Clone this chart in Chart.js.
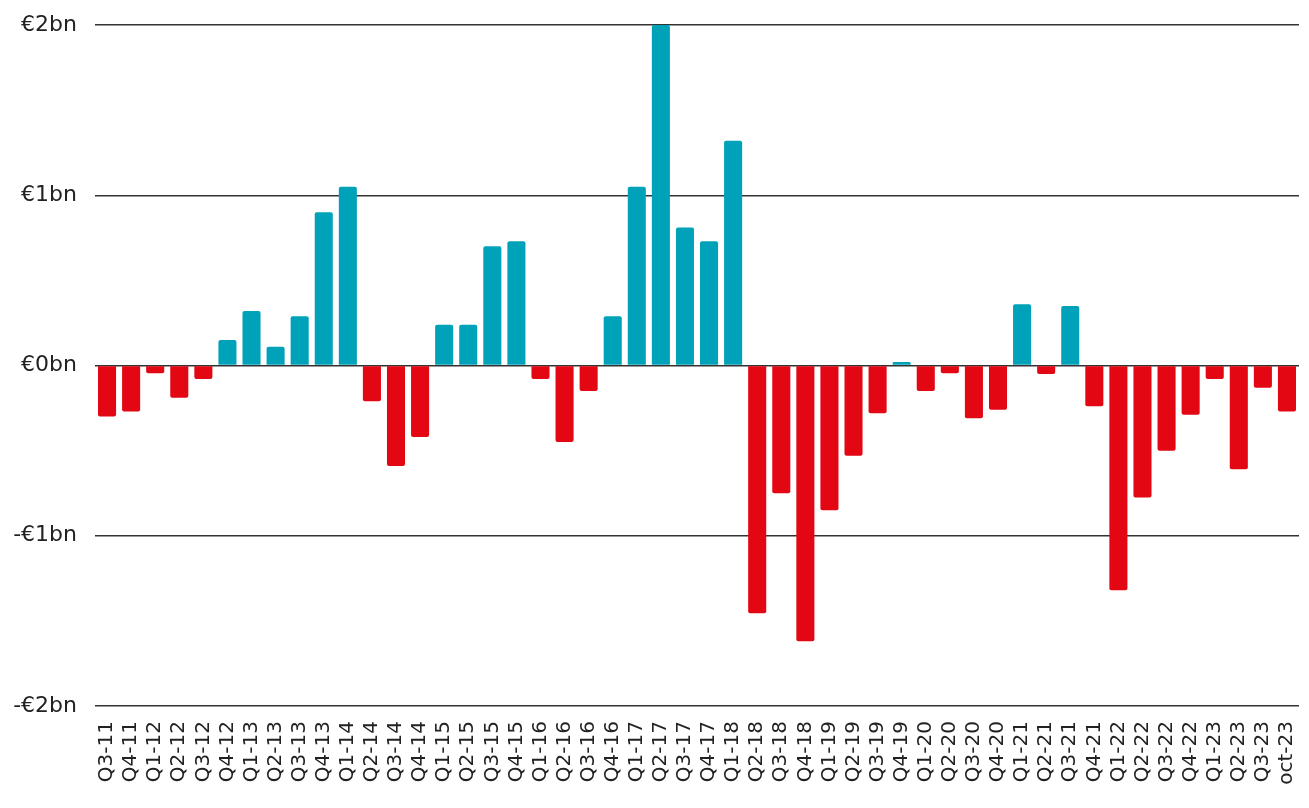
<!DOCTYPE html>
<html>
<head>
<meta charset="utf-8">
<script src="https://cdn.jsdelivr.net/npm/chart.js@4.4.1/dist/chart.umd.min.js"></script>
<style>
  html, body { margin: 0; padding: 0; background: #fff; }
  #wrap { width: 1309px; height: 808px; }
</style>
</head>
<body>
<div id="wrap"><canvas id="flowChart" width="1309" height="808"></canvas></div>
<script>
// trimestres
const quarters = [
  'Q3-11', 'Q4-11', 'Q1-12', 'Q2-12', 'Q3-12', 'Q4-12', 'Q1-13', 'Q2-13', 'Q3-13', 'Q4-13',
  'Q1-14', 'Q2-14', 'Q3-14', 'Q4-14', 'Q1-15', 'Q2-15', 'Q3-15', 'Q4-15', 'Q1-16', 'Q2-16',
  'Q3-16', 'Q4-16', 'Q1-17', 'Q2-17', 'Q3-17', 'Q4-17', 'Q1-18', 'Q2-18', 'Q3-18', 'Q4-18',
  'Q1-19', 'Q2-19', 'Q3-19', 'Q4-19', 'Q1-20', 'Q2-20', 'Q3-20', 'Q4-20', 'Q1-21', 'Q2-21',
  'Q3-21', 'Q4-21', 'Q1-22', 'Q2-22', 'Q3-22', 'Q4-22', 'Q1-23', 'Q2-23', 'Q3-23', 'oct-23'
];

// flux en milliards d'euros
const flows = [
  -0.30, -0.27, -0.045, -0.19, -0.08, 0.15, 0.32, 0.11, 0.29, 0.90,
  1.05, -0.21, -0.59, -0.42, 0.24, 0.24, 0.70, 0.73, -0.08, -0.45,
  -0.15, 0.29, 1.05, 2.00, 0.81, 0.73, 1.32, -1.455, -0.75, -1.62,
  -0.85, -0.53, -0.28, 0.02, -0.15, -0.045, -0.31, -0.26, 0.36, -0.05,
  0.35, -0.24, -1.32, -0.775, -0.50, -0.29, -0.08, -0.61, -0.13, -0.27
];

const yTicks = [-2, -1, 0, 1, 2];
const yTickLabels = ['-€2bn', '-€1bn', '€0bn', '€1bn', '€2bn'];

const TEAL = '#00a2b9';
const RED = '#e30613';
const FONT = "'DejaVu Sans', sans-serif";

new Chart(document.getElementById('flowChart'), {
  type: 'bar',
  data: {
    labels: quarters,
    datasets: [{
      data: flows,
      backgroundColor: flows.map(v => v >= 0 ? TEAL : RED),
      borderWidth: 0,
      borderRadius: 2,
      borderSkipped: 'start',
      barPercentage: 0.75,
      categoryPercentage: 1.0
    }]
  },
  options: {
    responsive: false,
    animation: false,
    layout: { padding: { top: 25, right: 10, left: 0, bottom: 0 } },
    plugins: {
      legend: { display: false },
      tooltip: { enabled: false }
    },
    scales: {
      x: {
        grid: { display: false, drawTicks: false },
        border: { display: false },
        ticks: {
          autoSkip: false,
          maxRotation: 90,
          minRotation: 90,
          padding: 15,
          color: '#222',
          font: { family: FONT, size: 20 }
        },
        afterFit: s => { s.height = 102; s.paddingRight = 0; s.paddingTop = 0; }
      },
      y: {
        min: -2,
        max: 2,
        afterBuildTicks: s => { s.ticks = yTicks.map(v => ({ value: v })); },
        grid: {
          color: '#333',
          lineWidth: 1.5,
          drawTicks: false
        },
        border: { display: false },
        ticks: {
          padding: 18,
          color: '#222',
          font: { family: FONT, size: 22 },
          callback: v => yTickLabels[yTicks.indexOf(v)]
        },
        afterFit: s => { s.width = 95; s.paddingTop = 0; s.paddingBottom = 0; }
      }
    }
  }
});
</script>
</body>
</html>
